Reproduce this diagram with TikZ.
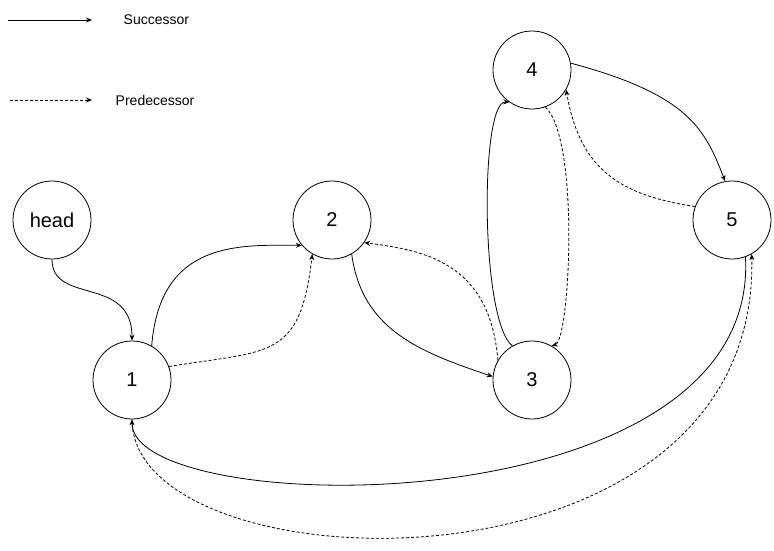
\documentclass[tikz,border=0pt]{standalone}
\usepackage{fontspec}
\setmainfont{Liberation Sans}
\usetikzlibrary{arrows.meta}
\begin{document}
\begin{tikzpicture}[x=1pt,y=-1pt,line width=0.8pt,
  st/.style={circle,draw,minimum size=78pt,inner sep=0pt,font=\fontsize{20}{24}\selectfont},
  succ/.style={draw,-{Stealth[length=6pt,width=5pt]}},
  pred/.style={draw,dash pattern=on 3pt off 2pt,-{Stealth[length=6pt,width=5pt]}},
  lg/.style={font=\fontsize{14}{16}\selectfont,anchor=west}]
\useasboundingbox (0,0) rectangle (774,551);
\node[st] (h) at (52,220) {head};
\node[st] (n1) at (132,380) {1};
\node[st] (n2) at (332,220) {2};
\node[st] (n3) at (532,380) {3};
\node[st] (n4) at (532,70) {4};
\node[st] (n5) at (732,220) {5};
\coordinate (a1) at (8,20); \coordinate (a2) at (92,20);
\coordinate (b1) at (10,100); \coordinate (b2) at (92,100);
\draw[succ] (a1) -- (a2);
\draw[pred] (b1) -- (b2);
\node[lg] (ls) at (120,20) {Successor};
\node[lg] (lp) at (112,100) {Predecessor};
% head -> 1
\draw[succ] (h.south) .. controls (52,305) and (132,275) .. (n1.north);
% 1 <-> 2
\draw[succ] (n1.60) .. controls (160,240) and (240,245) .. (n2.220);
\draw[pred] (n1.20) .. controls (270,350) and (300,360) .. (n2.240);
% 2 <-> 3
\draw[succ] (n2.300) .. controls (362,330) and (420,352) .. (n3.175);
\draw[pred] (n3.150) .. controls (490,260) and (420,250) .. (n2.325);
% 3 <-> 4
\draw[succ] (n3.120) .. controls (480,320) and (480,100) .. (n4.235);
\draw[pred] (n4.290) .. controls (580,140) and (570,340) .. (n3.60);
% 4 <-> 5
\draw[succ] (n4.10) .. controls (690,95) and (705,130) .. (n5.100);
\draw[pred] (n5.160) .. controls (620,195) and (580,170) .. (n4.330);
% 5 <-> 1
\draw[succ] (n5.290) .. controls (760,530) and (132,520) .. (n1.south);
\draw[pred] (n1.south) .. controls (132,590) and (760,610) .. (n5.300);
\end{tikzpicture}
\end{document}
